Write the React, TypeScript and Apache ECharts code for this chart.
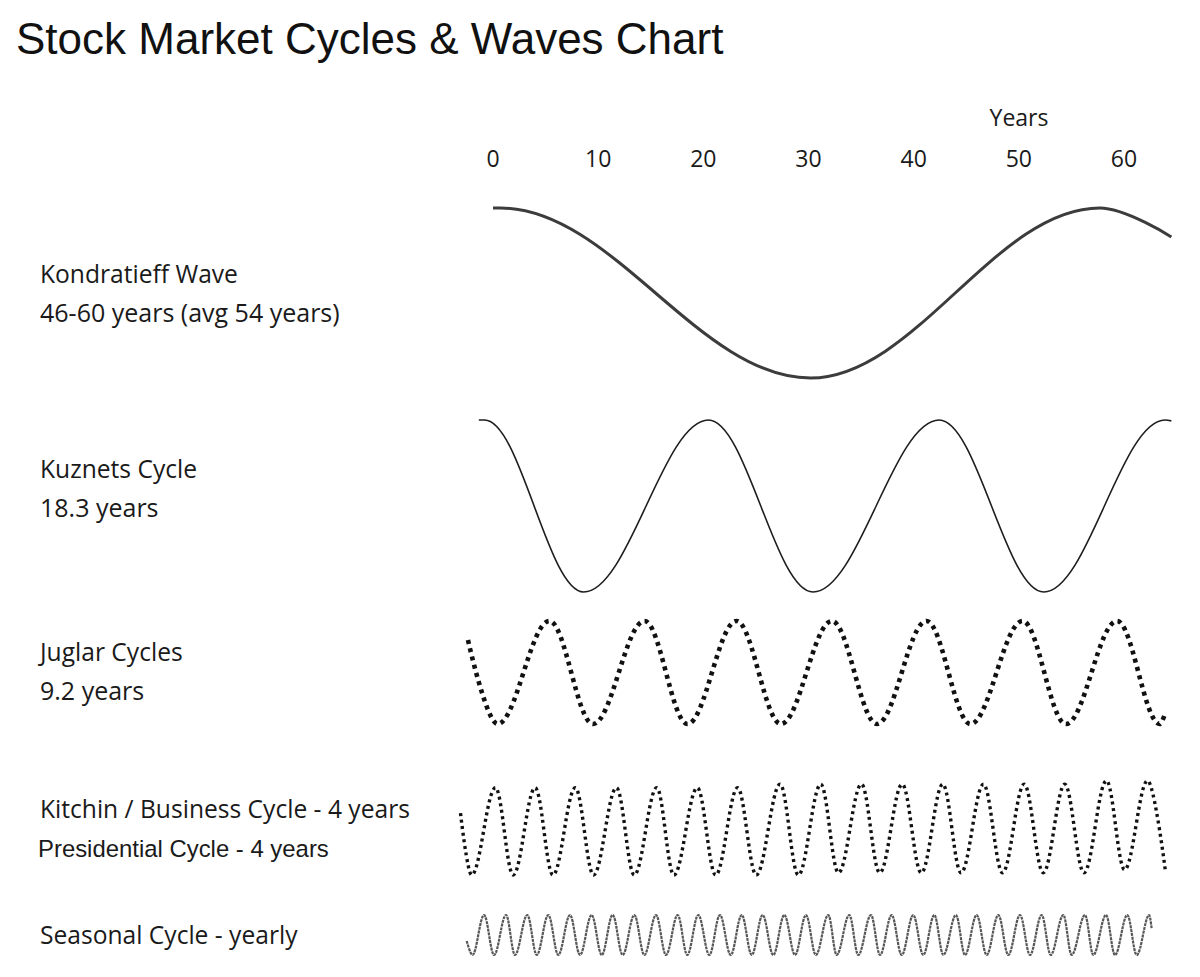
import { useEffect, useRef } from 'react'
import * as echarts from 'echarts'

// tick labels along the top axis (years)
const yearTicks = [0, 10, 20, 30, 40, 50, 60]

// each wave: turning points, x in years, level -1 (trough) .. 1 (crest)
const kondratieffYears = [0, 0.7, 30.2, 57.7, 64.5]
const kondratieffLevels = [1, 1, -1, 1, 0.66]

const kuznetsYears = [-1.35, -0.8, 8.62, 20.49, 30.43, 42.43, 52.37, 63.9, 64.5]
const kuznetsLevels = [1, 1, -1, 1, -1, 1, -1, 1, 0.99]

const juglarYears = [-2.38, 0.43, 5.37, 9.51, 14.41, 18.49, 23.15, 27.38, 32.23, 36.51, 41.22, 45.4, 50.36, 54.48, 59.34, 63.4, 63.9]
const juglarLevels = [0.63, -1, 1, -1, 1, -1, 1, -1, 1, -1, 1, -1, 1, -1, 1, -1, -0.8]

const kitchinYears = [
  -3.09, -2.04, 0.24, 1.92, 4.01, 5.7, 7.83, 9.56, 11.74, 13.43, 15.57, 17.2, 19.43, 21.17, 23.26, 25.03, 27.3, 29.03,
  31.17, 32.85, 35.04, 36.77, 38.91, 40.72, 42.77, 44.5, 46.64, 48.45, 50.51, 52.32, 54.37, 56.19, 58.33, 60.05, 62.24, 63.93,
]
const kitchinLevels = [
  0.39, -1, 0.96, -1, 0.96, -1, 0.96, -1, 0.96, -1, 0.96, -1, 0.96, -1, 0.96, -1, 1.04, -1,
  1.04, -0.95, 1.04, -0.95, 1.04, -0.95, 1.04, -0.95, 1.04, -0.95, 1.04, -0.95, 1.04, -0.95, 1.12, -0.88, 1.12, -0.9,
]

const seasonalYears = [
  -2.5, -1.95, -0.85, 0.1, 1.24, 2.09, 3.26, 4.16, 5.26, 6.21, 7.32, 8.27, 9.38, 10.34, 11.38, 12.33, 13.44, 14.39,
  15.5, 16.45, 17.56, 18.47, 19.52, 20.57, 21.58, 22.6, 23.65, 24.6, 25.64, 26.65, 27.7, 28.72, 29.76, 30.7, 31.88,
  32.68, 33.88, 34.73, 35.94, 36.8, 37.91, 38.86, 39.96, 40.91, 41.96, 42.82, 44.02, 44.88, 45.99, 46.94, 48.05,
  49.0, 50.11, 51.06, 52.17, 53.03, 54.23, 55.02, 56.29, 57.08, 58.29, 59.14, 60.31, 61.21, 62.4, 62.63,
]
const seasonalLevels = [
  -0.3, -1, 1, -1, 1, -1, 1, -1, 1, -1, 1, -1, 1, -1, 1, -1, 1, -1,
  1, -1, 1, -1, 1, -1, 1, -1, 1, -1, 1, -1, 1, -1, 1, -1, 1,
  -1, 1, -1, 1, -1, 1, -1, 1, -1, 1, -1, 1, -1, 1, -1, 1,
  -1, 1, -1, 1, -1, 1, -1, 1, -1, 1, -1, 1, -1, 1, 0.3,
]

const cycleNames = [
  'Kondratieff Wave',
  'Kuznets Cycle',
  'Juglar Cycles',
  'Kitchin / Business Cycle - 4 years',
  'Seasonal Cycle - yearly',
]
const cycleLengths = ['46-60 years (avg 54 years)', '18.3 years', '9.2 years', 'Presidential Cycle - 4 years', '']

const LABEL_FONT = '"Open Sans", "Noto Sans", sans-serif'
const ARIAL = '"Liberation Sans", Arial, sans-serif'

// screen band of each wave (crest line / trough line) and its stroke
const bands = [
  { top: 208, bottom: 378, nameY: 273.5, lenY: 311.5, line: { color: '#3c3c3c', width: 3, type: 'solid' } },
  { top: 420, bottom: 592, nameY: 468, lenY: 507, line: { color: '#1e1e1e', width: 1.6, type: 'solid' } },
  { top: 621, bottom: 724, nameY: 651, lenY: 690, line: { color: '#111', width: 4.6, type: [4, 4.5] } },
  { top: 786, bottom: 875, nameY: 808, lenY: 848, line: { color: '#111', width: 3.4, type: [3, 3.6] } },
  { top: 915, bottom: 955, nameY: 934, lenY: 0, line: { color: '#575757', width: 2.2, type: [3, 0.8] } },
]
const waves = [
  [kondratieffYears, kondratieffLevels],
  [kuznetsYears, kuznetsLevels],
  [juglarYears, juglarLevels],
  [kitchinYears, kitchinLevels],
  [seasonalYears, seasonalLevels],
]

const X_MIN = -4
const X_MAX = 65
const ZERO_PX = 493
const PX_PER_YEAR = 10.517

export default function App() {
  const rootRef = useRef<HTMLDivElement | null>(null)

  useEffect(() => {
    if (!rootRef.current) return
    const chart = echarts.init(rootRef.current, undefined, { renderer: 'svg' })

    const gridLeft = ZERO_PX + X_MIN * PX_PER_YEAR
    const gridWidth = (X_MAX - X_MIN) * PX_PER_YEAR

    const labels: any[] = []
    bands.forEach((b, i) => {
      labels.push({
        type: 'text',
        x: 40,
        y: b.nameY,
        style: { text: cycleNames[i], fill: '#1a1a1a', fontFamily: LABEL_FONT, fontSize: 24.6, verticalAlign: 'middle' },
      })
      if (cycleLengths[i]) {
        const arial = i === 3
        labels.push({
          type: 'text',
          x: arial ? 38 : 40,
          y: b.lenY,
          style: {
            text: cycleLengths[i],
            fill: '#1a1a1a',
            fontFamily: arial ? ARIAL : LABEL_FONT,
            fontSize: arial ? 23.9 : 25,
            verticalAlign: 'middle',
          },
        })
      }
    })

    chart.setOption({
      animation: false,
      backgroundColor: '#fff',
      grid: bands.map((b) => ({ left: gridLeft, width: gridWidth, top: b.top, height: b.bottom - b.top })),
      xAxis: bands.map((_, i) => ({
        type: 'value',
        gridIndex: i,
        min: X_MIN,
        max: X_MAX,
        show: i === 0,
        position: 'top',
        axisLine: { show: false },
        axisTick: { show: false },
        splitLine: { show: false },
        axisLabel: {
          show: i === 0,
          customValues: yearTicks,
          margin: 39,
          color: '#1a1a1a',
          fontFamily: LABEL_FONT,
          fontSize: 23,
        },
      })),
      yAxis: bands.map((_, i) => ({ type: 'value', gridIndex: i, min: -1, max: 1, show: false })),
      series: waves.map(([years, levels], i) => ({
        type: 'line',
        xAxisIndex: i,
        yAxisIndex: i,
        data: years.map((x, k) => [x, levels[k]]),
        smooth: 0.36,
        smoothMonotone: 'x',
        symbol: 'none',
        clip: false,
        silent: true,
        lineStyle: { color: bands[i].line.color, width: bands[i].line.width, type: bands[i].line.type },
      })),
      graphic: [
        {
          type: 'text',
          x: 16,
          y: 38,
          style: { text: 'Stock Market Cycles & Waves Chart', fill: '#111', fontFamily: ARIAL, fontSize: 44, verticalAlign: 'middle' },
        },
        {
          type: 'text',
          x: 1019,
          y: 117,
          style: { text: 'Years', fill: '#1a1a1a', fontFamily: LABEL_FONT, fontSize: 23, align: 'center', verticalAlign: 'middle' },
        },
        ...labels,
      ],
    })

    return () => chart.dispose()
  }, [])

  return (
    <div
      ref={rootRef}
      style={{ position: 'fixed', left: 0, top: 0, width: 1200, height: 977, background: '#fff' }}
    />
  )
}
